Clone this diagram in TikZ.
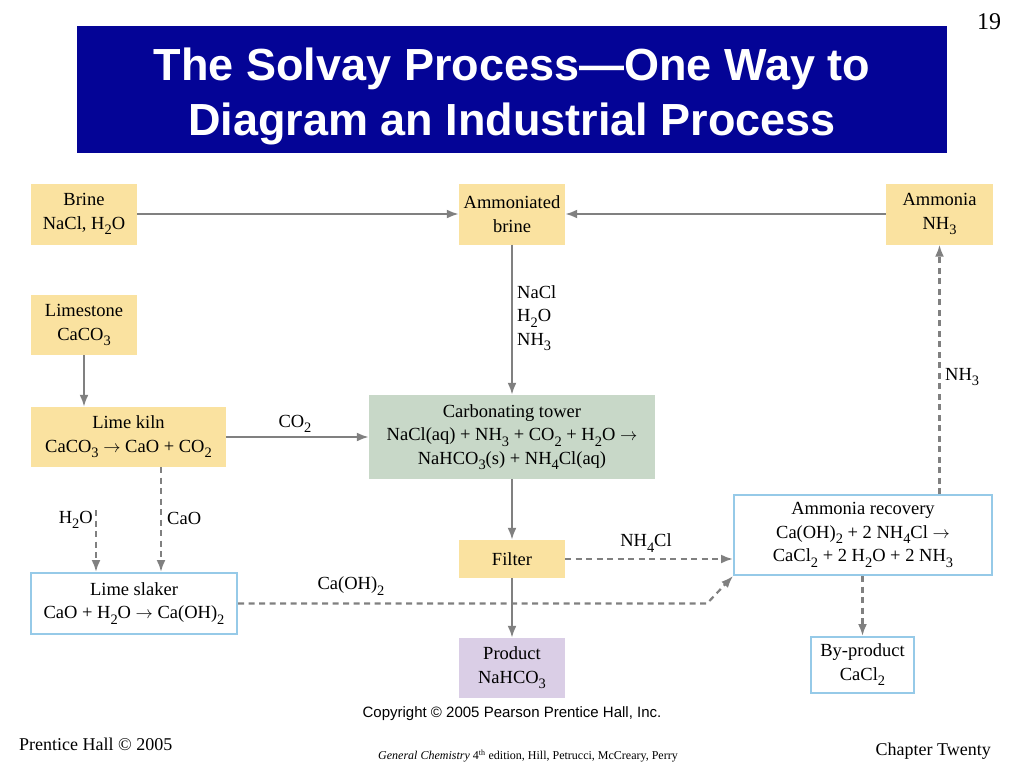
\documentclass[tikz,border=0pt]{standalone}
\usepackage{fontspec}
\usepackage{graphicx}
\setmainfont{Liberation Serif}
\newfontfamily\arialfont{Liberation Sans}
\usetikzlibrary{arrows.meta}
\newcommand{\chsub}[1]{\raisebox{-0.3em}{\scalebox{0.78}{#1}}}
\newcommand{\rxarrow}{\ensuremath{\rightarrow}}
\definecolor{titleblue}{RGB}{4,4,150}
\definecolor{boxyellow}{RGB}{250,226,160}
\definecolor{boxgreen}{RGB}{200,216,200}
\definecolor{boxlav}{RGB}{218,206,230}
\definecolor{boxblue}{RGB}{150,202,232}
\definecolor{flowgray}{RGB}{128,128,128}
\tikzset{
  base/.style={inner sep=0pt, align=center, font=\fontsize{18.5}{23.5}\selectfont},
  ybox/.style={base, fill=boxyellow},
  gbox/.style={base, fill=boxgreen},
  lbox/.style={base, fill=boxlav},
  bbox/.style={base, fill=white, draw=boxblue, line width=2pt},
  flow/.style={draw=flowgray, line width=2.2pt, -{Latex[length=12pt,width=9pt]}},
  dflow/.style={flow, dash pattern=on 6pt off 4.5pt},
  lab/.style={inner sep=0pt, font=\fontsize{18.5}{23.5}\selectfont},
}
\begin{document}
\begin{tikzpicture}[x=1pt,y=-1pt]
\useasboundingbox (0,0) rectangle (1024,768);
% title
\node[fill=titleblue, minimum width=870pt, minimum height=127pt, inner sep=0pt] (title) at (512,89.5) {};
\node[text=white, align=center, font=\arialfont\bfseries\fontsize{45}{55}\selectfont] (titletext) at (512,96) {The Solvay Process—One Way to\\Diagram an Industrial Process};
\node[font=\fontsize{24}{28}\selectfont, inner sep=0pt] (pagenum) at (989,22) {19};

% nodes
\node[ybox, minimum width=106pt, minimum height=61pt] (brine) at (84,214) {Brine\\NaCl, H\chsub{2}O};
\node[ybox, minimum width=106pt, minimum height=61pt] (ammb) at (512,214) {Ammoniated\\brine};
\node[ybox, minimum width=107pt, minimum height=61pt] (amm) at (939.5,214) {Ammonia\\NH\chsub{3}};
\node[ybox, minimum width=106pt, minimum height=60pt] (lime) at (84,325) {Limestone\\CaCO\chsub{3}};
\node[ybox, minimum width=195pt, minimum height=60pt] (kiln) at (128.5,437) {Lime kiln\\CaCO\chsub{3} \rxarrow{} CaO + CO\chsub{2}};
\node[gbox, minimum width=286pt, minimum height=84pt] (tower) at (512,437) {Carbonating tower\\NaCl(aq) + NH\chsub{3} + CO\chsub{2} + H\chsub{2}O \rxarrow\\NaHCO\chsub{3}(s) + NH\chsub{4}Cl(aq)};
\node[ybox, minimum width=106pt, minimum height=38pt] (filter) at (512,559) {Filter};
\node[lbox, minimum width=106pt, minimum height=60pt] (prod) at (512,668) {Product\\NaHCO\chsub{3}};
\node[bbox, minimum width=206pt, minimum height=61pt] (slaker) at (134,603.5) {Lime slaker\\CaO + H\chsub{2}O \rxarrow{} Ca(OH)\chsub{2}};
\node[bbox, minimum width=258pt, minimum height=80pt] (rec) at (863,535) {Ammonia recovery\\Ca(OH)\chsub{2} + 2 NH\chsub{4}Cl \rxarrow\\CaCl\chsub{2} + 2 H\chsub{2}O + 2 NH\chsub{3}};
\node[bbox, minimum width=103pt, minimum height=56pt] (byp) at (862.5,665) {By-product\\CaCl\chsub{2}};

% helper coordinates
\coordinate (caox) at (161,0);
\coordinate (h2ostart) at (96,510);
\coordinate (bend) at (707,603.5);

% connectors
\draw[flow] (brine) -- (ammb);
\draw[flow] (amm) -- (ammb);
\draw[flow] (ammb) -- (tower);
\draw[flow] (lime) -- (lime.south |- kiln.north);
\draw[flow] (kiln) -- (tower);
\draw[flow] (tower) -- (filter);
\draw[flow] (filter) -- (prod);
\draw[dflow] (filter.east) -- (filter.east -| rec.west);
\draw[dflow] (slaker.east) -- (bend) -- (rec.south west);
\draw[dflow] (kiln.south -| caox) -- (slaker.north -| caox);
\draw[dflow] (h2ostart) -- (h2ostart |- slaker.north);
\draw[dflow] (rec.north -| amm) -- (amm.south);
\draw[dflow] (rec.south -| byp) -- (byp.north);

% labels
\node[lab, anchor=west, align=left] (ammlab) at (517,318) {NaCl\\H\chsub{2}O\\NH\chsub{3}};
\node[lab] (co2lab) at (295,424) {CO\chsub{2}};
\node[lab, anchor=east] (h2olab) at (93,520) {H\chsub{2}O};
\node[lab, anchor=west] (caolab) at (167,518) {CaO};
\node[lab] (nh4lab) at (646,543) {NH\chsub{4}Cl};
\node[lab] (caohlab) at (351,586) {Ca(OH)\chsub{2}};
\node[lab, anchor=west] (nh3lab) at (945,377) {NH\chsub{3}};

% footer
\node[font=\arialfont\fontsize{15}{18}\selectfont, inner sep=0pt] (copy) at (512,714) {Copyright © 2005 Pearson Prentice Hall, Inc.};
\node[font=\fontsize{18}{22}\selectfont, inner sep=0pt, anchor=west] (ph) at (19,744) {Prentice Hall © 2005};
\node[font=\fontsize{12}{14}\selectfont, inner sep=0pt] (gc) at (528,756) {\textit{General Chemistry} 4\textsuperscript{th} edition, Hill, Petrucci, McCreary, Perry};
\node[font=\fontsize{18}{22}\selectfont, inner sep=0pt, anchor=east] (ch) at (991,751) {Chapter Twenty};
\end{tikzpicture}
\end{document}
